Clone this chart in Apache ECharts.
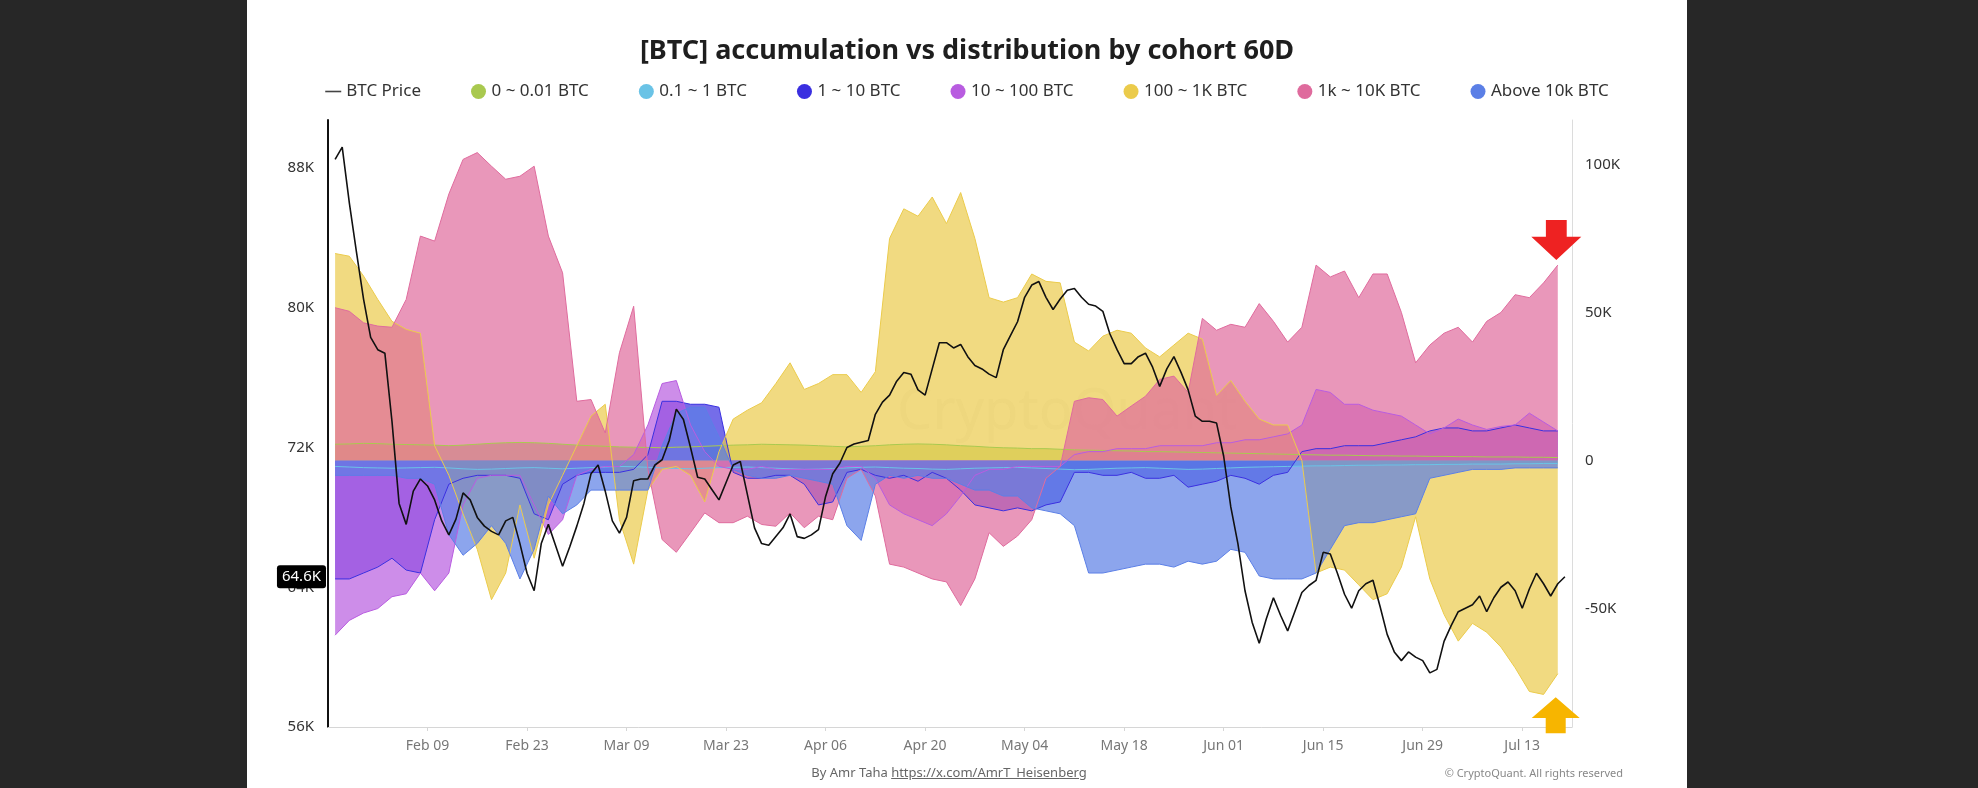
<!DOCTYPE html>
<html>
<head>
<meta charset="utf-8">
<title>[BTC] accumulation vs distribution by cohort 60D</title>
<script src="https://cdn.jsdelivr.net/npm/echarts@6/dist/echarts.min.js"></script>
<style>
  html, body { margin: 0; padding: 0; background: #272727; width: 1978px; height: 788px; overflow: hidden; font-family: "Noto Sans", sans-serif; }
  #panel { position: absolute; left: 247px; top: 0; width: 1440px; height: 788px; background: #fff; }
  #chart { position: absolute; left: 0; top: 0; width: 1440px; height: 788px; }
  #byline { position: absolute; left: 0; width: 1404px; top: 763px; text-align: center; font-size: 13px; color: #666; }
  #byline span { text-decoration: underline; }
  #copy { position: absolute; right: 64px; top: 765px; font-size: 11px; color: #888; }
</style>
</head>
<body>
<div id="panel">
  <div id="chart"></div>
  <div id="byline">By Amr Taha <span>https://x.com/AmrT_Heisenberg</span></div>
  <div id="copy">© CryptoQuant. All rights reserved</div>
</div>
<script>
// dates: price is daily from Jan 27, cohorts every 2 days from Jan 27 (values in K)
var xTicks = ['2026-02-09','2026-02-23','2026-03-09','2026-03-23','2026-04-06','2026-04-20',
              '2026-05-04','2026-05-18','2026-06-01','2026-06-15','2026-06-29','2026-07-13'];
var priceTicks = [56, 64, 72, 80, 88];
var flowTicks = [-50, 0, 50, 100];

var btcPrice = [
  88.5,89.2,86.0,83.2,80.5,78.3,77.6,77.4,73.5,68.8,
  67.6,69.5,70.2,69.8,69.0,67.8,67.0,67.9,69.4,69.0,
  68.0,67.5,67.2,67.0,67.8,68.0,66.5,64.8,63.8,66.5,
  67.6,66.4,65.2,66.3,67.5,68.8,70.5,71.0,69.5,67.8,
  67.1,68.0,70.1,70.2,70.2,71.0,71.3,72.4,74.2,73.6,
  72.0,70.3,70.2,69.6,69.0,70.0,71.0,71.2,69.3,67.4,
  66.5,66.4,66.9,67.4,68.2,66.9,66.8,67.0,67.3,69.2,
  70.5,71.1,72.0,72.2,72.3,72.4,73.9,74.6,75.0,75.8,
  76.3,76.2,75.3,75.0,76.5,78.0,78.0,77.7,77.9,77.2,
  76.7,76.5,76.2,76.0,77.6,78.4,79.2,80.6,81.3,81.5,
  80.6,79.9,80.5,81.0,81.1,80.6,80.2,80.1,79.8,78.5,
  77.6,76.8,76.8,77.2,77.4,76.6,75.5,76.5,77.2,76.3,
  75.3,73.8,73.5,73.5,73.4,71.5,68.6,66.5,63.8,62.0,
  60.8,62.2,63.4,62.4,61.5,62.6,63.7,64.1,64.4,66.0,
  65.9,64.8,63.6,62.8,63.8,64.2,64.4,62.9,61.3,60.3,
  59.8,60.3,60.0,59.8,59.1,59.3,60.9,61.8,62.6,62.8,
  63.0,63.5,62.6,63.4,64.0,64.3,63.8,62.8,63.9,64.8,
  64.2,63.5,64.2,64.6
];

var c0to001 = [
  5.5,5.6,5.8,5.7,5.5,5.4,5.3,5.2,5.0,5.2,
  5.5,5.8,6.0,6.1,6.0,5.8,5.5,5.2,5.0,4.8,
  4.6,4.5,4.4,4.3,4.5,4.6,4.8,5.0,5.2,5.3,
  5.5,5.4,5.3,5.2,5.0,4.8,4.6,4.8,5.0,5.3,
  5.5,5.6,5.5,5.3,5.0,4.8,4.5,4.3,4.2,4.0,
  4.0,3.8,3.6,3.5,3.4,3.3,3.2,3.0,3.0,2.9,
  2.8,2.7,2.6,2.5,2.4,2.3,2.2,2.1,2.0,1.9,
  1.8,1.8,1.7,1.6,1.6,1.5,1.5,1.4,1.4,1.3,
  1.3,1.2,1.2,1.2,1.1,1.1,1.0
];
var c01to1 = [
  -2.0,-2.2,-2.4,-2.5,-2.6,-2.5,-2.4,-2.3,-2.5,-2.8,
  -3.0,-2.9,-2.7,-2.5,-2.4,-2.6,-2.8,-2.6,-2.4,-2.2,
  -2.0,-2.1,-2.3,-2.5,-2.7,-2.8,-2.6,-2.4,-2.3,-2.2,
  -2.4,-2.6,-2.8,-3.0,-2.9,-2.7,-2.5,-2.3,-2.2,-2.4,
  -2.6,-2.7,-2.9,-3.0,-2.8,-2.6,-2.5,-2.4,-2.3,-2.5,
  -2.7,-2.9,-3.1,-3.0,-2.8,-2.6,-2.5,-2.4,-2.6,-2.8,
  -3.0,-2.9,-2.7,-2.5,-2.3,-2.2,-2.1,-2.0,-1.9,-1.8,
  -1.8,-1.7,-1.6,-1.6,-1.5,-1.5,-1.4,-1.4,-1.3,-1.3,
  -1.2,-1.2,-1.2,-1.1,-1.1,-1.0,-1.0
];
var c1to10 = [
  -40,-40,-38,-36,-33,-37,-38,-20,-8,-6,
  -5,-5,-5,-6,-18,-20,-8,-5,-4,-4,
  -4,-3,2,20,20,19,19,18,-4,-6,
  -6,-5,-5,-8,-15,-14,-4,-3,-5,-6,
  -5,-7,-4,-6,-10,-15,-16,-17,-16,-17,
  -15,-14,-4,-4,-5,-5,-4,-6,-6,-5,
  -9,-8,-7,-5,-6,-8,-5,-4,3,4,
  4,5,5,5,6,7,8,10,11,11,
  10,10,11,12,11,10,10
];
var c10to100 = [
  -59,-54,-51.5,-50,-46,-45,-38,-44,-38,-15,
  -6,-5,-5,-5,-15,-25,-20,-5,-3,-2,
  -2,2,12,26,27,12,3,-2,-3,-3,
  -2,-3,-3,-3,-3,-3,-2,-2,-6,-15,
  -18,-20,-22,-18,-12,-5,-3,-3,-2,-2,
  -2,-2,2,3,3,4,4,4,5,5,
  5,5,6,6,7,7,8,9,12,24,
  23,19,19,17,16,15,12,9,11,14,
  12,10.5,11.5,12,16,13,10
];
var c100to1k = [
  69.9,69,62.3,54.4,47,44.3,43,5,-5,-18,
  -30,-47,-38,-15,-33,-15,-5,5,15,19,
  -20,-35,-10,-3,-2,-5,-14,3,14,17,
  19.5,26,33,24,26,29,29,23,30,75,
  85,82.5,89,80,90.5,75,55,53.5,55,63,
  60.5,60,40,37,42,44,43,38,35,39,
  43,41,22,27,20,14,12,12,0,-38,
  -36,-37,-42,-47,-45,-36,-19,-40,-52,-61,
  -55,-58,-63,-70,-78,-79,-72
];
var c1kto10k = [
  51.6,50.4,46.5,45.4,45,54.4,75.8,74.1,90,101.7,
  104,99.4,95,96,99.4,75.8,63.4,20,20.6,9.3,
  36.4,52.1,-3,-26.7,-31,-24.4,-17.7,-21,-21,-18.8,
  -21.6,-22.2,-17.7,-22.7,-18.8,-20,-6,-3,-12,-35,
  -36,-38,-40,-41,-49,-40,-24.4,-29,-25.5,-20,
  -6,-2,20,21.2,20.6,15,18.4,21.7,27.4,28.5,
  23,48,44,46,45,53,47,40,45,66,
  62,64,55,63,63,50,33,39,43,45,
  40,47,50,56,55,60,66
];
var cAbove10k = [
  -5,-5,-5,-5,-5,-6,-6,-8,-25,-32,
  -28,-22,-28,-40,-30,-12,-18,-15,-10,-10,
  -10,-10,-10,5,16,18,18,8,-3,-5,
  -6,-6,-5,-6,-7,-8,-22,-27,-8,-5,
  -6,-5,-6,-6,-8,-10,-10,-12,-12,-16,
  -17,-18,-22,-38,-38,-37,-36,-35,-35,-36,
  -34,-35,-34,-30,-31,-39,-40,-40,-40,-38,
  -30,-22,-21,-21,-20,-19,-18,-6,-5,-4,
  -3,-3,-3,-2.5,-2.5,-2.5,-2.5
];

var cohortNames = ['0 ~ 0.01 BTC','0.1 ~ 1 BTC','1 ~ 10 BTC','10 ~ 100 BTC','100 ~ 1K BTC','1k ~ 10K BTC','Above 10k BTC'];
var cohortValues = [c0to001, c01to1, c1to10, c10to100, c100to1k, c1kto10k, cAbove10k];
var cohortColors = ['#a9c94f','#6ac3e6','#3a2fe0','#b85ce0','#ebcb4b','#df6b9d','#5b7fe6'];
var months = ['Jan','Feb','Mar','Apr','May','Jun','Jul','Aug','Sep','Oct','Nov','Dec'];

function dayTs(offset, hour) {
  return new Date(2026, 0, 27 + offset, hour || 0).getTime();
}
function parseDay(s) {
  var p = s.split('-');
  return new Date(+p[0], +p[1] - 1, +p[2]).getTime();
}
var tickTs = xTicks.map(parseDay);

var chart = echarts.init(document.getElementById('chart'));

var series = cohortNames.map(function (name, i) {
  return {
    name: name,
    type: 'line',
    yAxisIndex: 1,
    symbol: 'none',
    data: cohortValues[i].map(function (v, k) { return [dayTs(2 * k), v]; }),
    itemStyle: { color: cohortColors[i] },
    lineStyle: { width: 1, color: cohortColors[i] },
    areaStyle: { color: cohortColors[i], opacity: 0.7 },
    emphasis: { disabled: true }
  };
});
// annotation arrows
series[5].markPoint = {
  silent: true,
  data: [{
    coord: [new Date(2026, 6, 17, 19).getTime(), 74.5],
    symbol: 'path://M14,0 L34,0 L34,16 L48,16 L24,38 L0,16 L14,16 Z',
    symbolSize: [50, 40],
    itemStyle: { color: '#ee2222', opacity: 1 },
    label: { show: false }
  }]
};
series[4].markPoint = {
  silent: true,
  data: [{
    coord: [new Date(2026, 6, 17, 17).getTime(), -86],
    symbol: 'path://M24,0 L48,22 L34,22 L34,38 L14,38 L14,22 L0,22 Z',
    symbolSize: [48, 36],
    itemStyle: { color: '#f7b500', opacity: 1 },
    label: { show: false }
  }]
};
series.push({
  name: 'BTC Price',
  type: 'line',
  yAxisIndex: 0,
  symbol: 'none',
  z: 10,
  data: btcPrice.map(function (v, j) { return [dayTs(j), v]; }),
  itemStyle: { color: '#444' },
  lineStyle: { width: 1.6, color: '#111' },
  emphasis: { disabled: true }
});

var legendData = [{ name: 'BTC Price', icon: 'path://M0,9 L20,9 L20,11 L0,11 Z' }].concat(cohortNames.map(function (n) {
  return { name: n, icon: 'circle' };
}));

var option = {
  animation: false,
  textStyle: { fontFamily: 'Noto Sans' },
  title: {
    text: '[BTC] accumulation vs distribution by cohort 60D',
    left: 'center',
    top: 33,
    textStyle: { fontSize: 27, fontWeight: 'bold', color: '#1e1e1e', fontFamily: 'Noto Sans' }
  },
  legend: {
    data: legendData,
    top: 78,
    left: 'center',
    itemWidth: 16,
    itemHeight: 15,
    itemGap: 50,
    textStyle: { fontSize: 17, color: '#333', fontFamily: 'Noto Sans' }
  },
  grid: { left: 81, right: 115, top: 120, bottom: 61 },
  graphic: [{
    type: 'text',
    left: 650,
    top: 385,
    silent: true,
    style: { text: 'CryptoQuant', fontSize: 56, fontFamily: 'Noto Sans', fill: 'rgba(160,160,160,0.13)' }
  }],
  xAxis: {
    type: 'value',
    min: new Date(2026, 0, 26).getTime(),
    max: new Date(2026, 6, 20).getTime(),
    axisLine: { onZero: false, lineStyle: { color: '#d6d6d6', width: 1 } },
    axisTick: { show: true, length: 4, lineStyle: { color: '#d6d6d6' }, customValues: tickTs },
    splitLine: { show: false },
    axisLabel: {
      customValues: tickTs,
      color: '#777',
      fontSize: 14,
      margin: 12,
      formatter: function (v) {
        var d = new Date(v);
        var day = d.getDate();
        return months[d.getMonth()] + ' ' + (day < 10 ? '0' + day : day);
      }
    }
  },
  yAxis: [{
    type: 'value',
    position: 'left',
    min: 56,
    max: 90.75,
    axisLine: { show: true, lineStyle: { color: '#111', width: 2 } },
    axisTick: { show: false },
    splitLine: { show: false },
    axisLabel: {
      customValues: priceTicks,
      color: '#333',
      fontSize: 15,
      margin: 14,
      formatter: function (v) { return v + 'K'; }
    },
    axisPointer: {
      show: true,
      value: 64.6,
      status: 'show',
      triggerTooltip: false,
      lineStyle: { opacity: 0 },
      label: {
        show: true,
        formatter: function () { return '64.6K'; },
        backgroundColor: '#000',
        color: '#fff',
        fontSize: 15,
        padding: [4, 5, 4, 5],
        margin: 2
      }
    }
  }, {
    type: 'value',
    position: 'right',
    min: -90,
    max: 115,
    axisLine: { show: true, lineStyle: { color: '#dcdcdc', width: 1 } },
    axisTick: { show: false },
    splitLine: { show: false },
    axisLabel: {
      customValues: flowTicks,
      color: '#333',
      fontSize: 15,
      margin: 13,
      formatter: function (v) { return v === 0 ? '0' : v + 'K'; }
    }
  }],
  series: series
};

chart.setOption(option);
</script>
</body>
</html>
